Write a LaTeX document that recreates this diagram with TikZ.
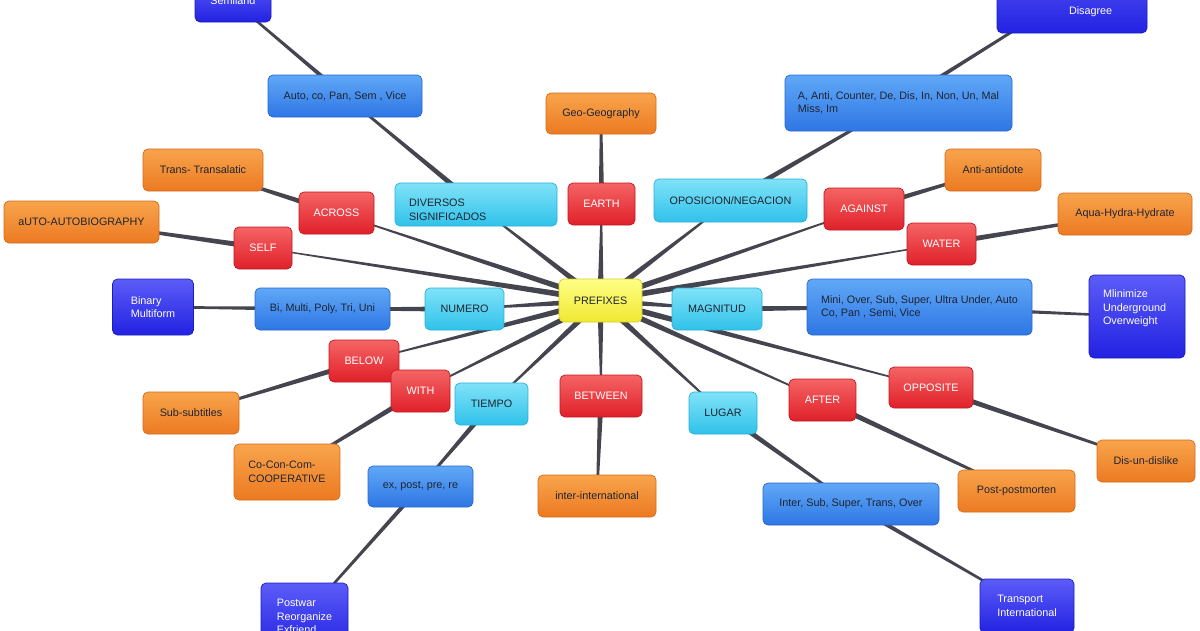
\documentclass[tikz,border=0pt]{standalone}
\usepackage{fontspec}
\setmainfont{Liberation Sans}
\usetikzlibrary{calc,backgrounds}

\definecolor{inkdark}{HTML}{1E2430}
\definecolor{linkgray}{HTML}{45454F}
\definecolor{roottop}{HTML}{FFFF86}\definecolor{rootbot}{HTML}{F0E832}\definecolor{rootedge}{HTML}{D4CC2A}
\definecolor{grouptop}{HTML}{80E2F8}\definecolor{groupbot}{HTML}{30C2EA}\definecolor{groupedge}{HTML}{28B0DA}
\definecolor{keytop}{HTML}{F46464}\definecolor{keybot}{HTML}{E0202A}\definecolor{keyedge}{HTML}{C01820}
\definecolor{sampletop}{HTML}{F8A44C}\definecolor{samplebot}{HTML}{EC7A22}\definecolor{sampleedge}{HTML}{D66A1A}
\definecolor{listtop}{HTML}{60A8F6}\definecolor{listbot}{HTML}{2E76E4}\definecolor{listedge}{HTML}{2A66D2}
\definecolor{wordtop}{HTML}{5C5CF8}\definecolor{wordbot}{HTML}{2222E2}\definecolor{wordedge}{HTML}{1C1CBE}

\tikzset{
  mapbox/.style={rounded corners=5pt, line width=0.7pt, inner xsep=6pt, inner ysep=3pt,
    minimum height=42pt, text=inkdark, font=\fontsize{10.8}{13.5}\selectfont},
  rootbox/.style={mapbox, draw=rootedge, top color=roottop, bottom color=rootbot},
  groupbox/.style={mapbox, draw=groupedge, top color=grouptop, bottom color=groupbot},
  keybox/.style={mapbox, text=white, draw=keyedge, top color=keytop, bottom color=keybot},
  samplebox/.style={mapbox, draw=sampleedge, top color=sampletop, bottom color=samplebot},
  listbox/.style={mapbox, draw=listedge, top color=listtop, bottom color=listbot},
  wordbox/.style={mapbox, text=white, draw=wordedge, top color=wordtop, bottom color=wordbot},
}

% tapered link: wide at the first node, narrow at the second
\newcommand{\twig}[4]{%
  \fill[linkgray] ($(#1.center)!#3!90:(#2.center)$) -- ($(#2.center)!#4!-90:(#1.center)$)
    -- ($(#2.center)!#4!90:(#1.center)$) -- ($(#1.center)!#3!-90:(#2.center)$) -- cycle;}

\begin{document}
\begin{tikzpicture}[x=1pt,y=-1pt]
\useasboundingbox (0,0) rectangle (1200,630);

% centre
\node[rootbox, minimum width=83pt, minimum height=43pt] (prefixes) at (600.5,300.5) {PREFIXES};

% groups
\node[groupbox, minimum width=162pt, minimum height=43pt, text width=134pt, inner xsep=14pt, align=left, text height=18pt] (diversos) at (476,204.5) {DIVERSOS\\SIGNIFICADOS};
\node[groupbox, minimum width=153pt, minimum height=43pt] (oposicion) at (730.5,200.5) {OPOSICION/NEGACION};
\node[groupbox, minimum width=79pt] (numero) at (464.5,309) {NUMERO};
\node[groupbox, minimum width=90pt] (magnitud) at (717,309) {MAGNITUD};
\node[groupbox, minimum width=73pt] (tiempo) at (491.5,404) {TIEMPO};
\node[groupbox, minimum width=68pt] (lugar) at (723,413) {LUGAR};

% meanings
\node[keybox, minimum width=67pt] (earth) at (601.5,204) {EARTH};
\node[keybox, minimum width=75pt] (across) at (336.5,213) {ACROSS};
\node[keybox, minimum width=58pt] (self) at (263,248) {SELF};
\node[keybox, minimum width=80pt] (against) at (864,209) {AGAINST};
\node[keybox, minimum width=69pt] (water) at (941.5,244) {WATER};
\node[keybox, minimum width=70pt] (below) at (364,361) {BELOW};
\node[keybox, minimum width=59pt] (with) at (420.5,391) {WITH};
\node[keybox, minimum width=82pt] (between) at (601,396) {BETWEEN};
\node[keybox, minimum width=67pt] (after) at (822.5,400) {AFTER};
\node[keybox, minimum width=84pt, minimum height=41pt] (opposite) at (931,387.5) {OPPOSITE};

% examples
\node[samplebox, minimum width=110pt, minimum height=41pt] (geo) at (601,113.5) {Geo-Geography};
\node[samplebox, minimum width=120pt] (trans) at (203,170) {Trans- Transalatic};
\node[samplebox, minimum width=155pt] (autobio) at (81.5,222) {aUTO-AUTOBIOGRAPHY};
\node[samplebox, minimum width=96pt] (antidote) at (993,170) {Anti-antidote};
\node[samplebox, minimum width=134pt] (aqua) at (1125,214) {Aqua-Hydra-Hydrate};
\node[samplebox, minimum width=96pt] (subtitles) at (191,413) {Sub-subtitles};
\node[samplebox, minimum width=106pt, minimum height=56pt, align=left] (coop) at (287,472) {Co-Con-Com-\\COOPERATIVE};
\node[samplebox, minimum width=118pt] (interint) at (597,496) {inter-international};
\node[samplebox, minimum width=117pt] (postmorten) at (1016.5,491) {Post-postmorten};
\node[samplebox, minimum width=98pt] (dislike) at (1146,461) {Dis-un-dislike};

% prefix lists
\node[listbox, minimum width=154pt] (autoco) at (345,96) {Auto, co, Pan, Sem , Vice};
\node[listbox, minimum width=227pt, minimum height=56pt, align=left] (antilist) at (898.5,103) {A, Anti, Counter, De, Dis, In, Non, Un, Mal\\Miss, Im};
\node[listbox, minimum width=135pt] (bimulti) at (322.5,309) {Bi, Multi, Poly, Tri, Uni};
\node[listbox, minimum width=225pt, minimum height=56pt, align=left] (minilist) at (919.5,307) {Mini, Over, Sub, Super, Ultra Under, Auto\\Co, Pan , Semi, Vice};
\node[listbox, minimum width=105pt, minimum height=41pt] (expost) at (420.5,486.5) {ex, post, pre, re};
\node[listbox, minimum width=176pt] (intersub) at (851,504) {Inter, Sub, Super, Trans, Over};

% words
\node[wordbox, minimum width=76pt] (semiland) at (233,1) {Semiland};
\node[wordbox, minimum width=150pt, minimum height=78pt, text width=124pt, inner xsep=13pt, align=left, text height=44pt] (disagree) at (1072,-6) {\hspace*{59pt}Disagree};
\node[wordbox, minimum width=81pt, minimum height=56pt, align=left] (binary) at (153,307) {Binary\\Multiform};
\node[wordbox, minimum width=96pt, minimum height=83pt, text width=68pt, inner xsep=14pt, align=left, text depth=45pt] (mlinimize) at (1137,316.5) {Mlinimize\\Underground\\Overweight};
\node[wordbox, minimum width=87pt, minimum height=67pt, align=left] (postwar) at (304.5,616.5) {Postwar\\Reorganize\\Exfriend};
\node[wordbox, minimum width=94pt, minimum height=54pt, align=left] (transport) at (1027,606) {Transport\\International};

\begin{scope}[on background layer]
\twig{prefixes}{diversos}{3.2pt}{0.5pt}
\twig{prefixes}{earth}{3.2pt}{0.5pt}
\twig{prefixes}{oposicion}{3.2pt}{0.5pt}
\twig{prefixes}{across}{3.2pt}{0.5pt}
\twig{prefixes}{self}{3.2pt}{0.5pt}
\twig{prefixes}{against}{3.2pt}{0.5pt}
\twig{prefixes}{water}{3.2pt}{0.5pt}
\twig{prefixes}{numero}{3.2pt}{0.5pt}
\twig{prefixes}{magnitud}{3.2pt}{0.5pt}
\twig{prefixes}{below}{3.2pt}{0.5pt}
\twig{prefixes}{with}{3.2pt}{0.5pt}
\twig{prefixes}{tiempo}{3.2pt}{0.5pt}
\twig{prefixes}{between}{3.2pt}{0.5pt}
\twig{prefixes}{lugar}{3.2pt}{0.5pt}
\twig{prefixes}{after}{3.2pt}{0.5pt}
\twig{prefixes}{opposite}{3.2pt}{0.5pt}

\twig{diversos}{autoco}{2.8pt}{1pt}
\twig{oposicion}{antilist}{2.8pt}{1pt}
\twig{numero}{bimulti}{2.8pt}{1pt}
\twig{magnitud}{minilist}{2.8pt}{1pt}
\twig{tiempo}{expost}{2.8pt}{1pt}
\twig{lugar}{intersub}{2.8pt}{1pt}

\twig{earth}{geo}{2.8pt}{1pt}
\twig{across}{trans}{2.8pt}{1pt}
\twig{self}{autobio}{2.8pt}{1pt}
\twig{against}{antidote}{2.8pt}{1pt}
\twig{water}{aqua}{2.8pt}{1pt}
\twig{below}{subtitles}{2.8pt}{1pt}
\twig{with}{coop}{2.8pt}{1pt}
\twig{between}{interint}{2.8pt}{1pt}
\twig{after}{postmorten}{2.8pt}{1pt}
\twig{opposite}{dislike}{2.8pt}{1pt}

\twig{autoco}{semiland}{2.2pt}{1pt}
\twig{antilist}{disagree}{2.2pt}{1pt}
\twig{bimulti}{binary}{2.2pt}{1pt}
\twig{minilist}{mlinimize}{2.2pt}{1pt}
\twig{expost}{postwar}{2.2pt}{1pt}
\twig{intersub}{transport}{2.2pt}{1pt}
\end{scope}
\end{tikzpicture}
\end{document}
